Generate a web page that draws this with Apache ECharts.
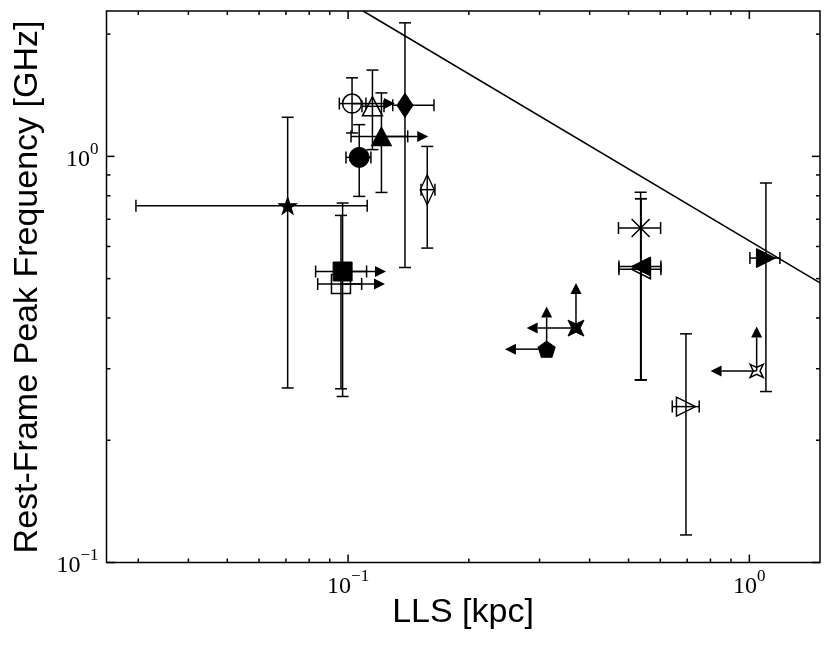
<!DOCTYPE html>
<html><head><meta charset="utf-8">
<script src="https://cdn.jsdelivr.net/npm/echarts@6/dist/echarts.min.js"></script>
<style>html,body{margin:0;padding:0;background:#fff}#main{width:831px;height:646px}</style>
</head><body><div id="main"></div>
<script>
// ---- axis ranges and ticks ----
const X_MIN = 0.025, X_MAX = 1.5, Y_MIN = 0.1, Y_MAX = 2.28;
const xMajorTicks = [0.1, 1];
const xMinorTicks = [0.03,0.04,0.05,0.06,0.07,0.08,0.09,0.2,0.3,0.4,0.5,0.6,0.7,0.8,0.9];
const yMajorTicks = [0.1, 1];
const yMinorTicks = [0.2,0.3,0.4,0.5,0.6,0.7,0.8,0.9,2];

// ---- sources (one marker each) ----
const sources = ['filledStar','openCircle','openTriangleUp','filledDiamond','filledCircle','filledTriangleUp',
  'openThinDiamond','filledSquare','openSquare','asterisk','openTriangleLeft','filledTriangleLeft',
  'filledTriangleRight','openTriangleRight','open4Star','filledPentagon','filled4Star'];
const lls =    [0.0707,0.1023,0.115,0.1386,0.1066,0.1211,0.1575,0.0969,0.096,0.5359,0.5368,0.5368,1.0998,0.6951,1.0428,0.3125,0.3698];
const freq =   [0.756,1.349,1.328,1.336,0.9943,1.12,0.828,0.5206,0.4849,0.666,0.5273,0.5357,0.5618,0.242,0.2963,0.3352,0.3777];
const llsLo =  [0.0296,0.0951,0.1083,0.1292,0.0988,0.1017,0.152,0.083,0.084,0.4719,0.4732,0.4732,1.0033,0.6425,null,null,null];
const llsHi =  [0.1116,0.1108,0.1229,0.1637,0.114,0.1408,0.1646,0.1112,0.1081,0.601,0.6021,0.6021,1.1918,0.75,null,null,null];
const freqLo = [0.269,1.142,1.039,0.5325,0.797,0.815,0.5945,0.2563,0.2677,0.2816,0.2816,0.2816,0.2636,0.1169,null,null,null];
const freqHi = [1.248,1.561,1.631,2.132,1.197,1.433,1.058,0.7676,0.7155,0.816,0.7866,0.7866,0.8599,0.3656,null,null,null];
// limit arrows (value the arrow points to)
const llsLimitTo  = [null,0.1308,null,null,null,0.1584,null,0.1243,0.1236,null,null,null,null,null,0.8006,0.246,0.2786];
const freqLimitTo = [null,null,null,null,null,null,null,null,null,null,null,null,null,null,0.3812,0.4269,0.4876];

// ---- reference relation line ----
const fitLLS  = [0.109, 1.5];
const fitFreq = [2.28, 0.488];

// ---- marker styles ----
const P_STAR = 'path://M50,0 L61.8,35.1 L98.5,35.1 L68.8,56.7 L79.4,91.5 L50,70 L20.6,91.5 L31.2,56.7 L1.5,35.1 L38.2,35.1 Z';
const P_LEFT = 'path://M0,50 L100,0 L100,100 Z';
const P_RIGHT = 'path://M100,50 L0,0 L0,100 Z';
const P_PENT = 'path://M50,0 L100,38 L81,100 L19,100 L0,38 Z';
const P_4STAR = 'path://M0,0 L50,24 L100,0 L76,50 L100,100 L50,76 L0,100 L24,50 Z';
const P_X = 'path://M0,0 L100,100 M100,0 L0,100';
const markerStyle = {
  filledStar:        {symbol:P_STAR, size:[18,17], fill:true},
  openCircle:        {symbol:'circle', size:19, fill:false},
  openTriangleUp:    {symbol:'triangle', size:[20,19], fill:false},
  filledDiamond:     {symbol:'diamond', size:[16,24], fill:true},
  filledCircle:      {symbol:'circle', size:20, fill:true},
  filledTriangleUp:  {symbol:'triangle', size:[20,19], fill:true},
  openThinDiamond:   {symbol:'diamond', size:[14,30], fill:false},
  filledSquare:      {symbol:'rect', size:19, fill:true},
  openSquare:        {symbol:'rect', size:19, fill:false},
  asterisk:          {symbol:P_X, size:18, fill:false},
  openTriangleLeft:  {symbol:P_LEFT, size:[19,19], fill:false},
  filledTriangleLeft:{symbol:P_LEFT, size:[19,19], fill:true},
  filledTriangleRight:{symbol:P_RIGHT, size:[19,19], fill:true},
  openTriangleRight: {symbol:P_RIGHT, size:[19,19], fill:false},
  open4Star:         {symbol:P_4STAR, size:13, fill:false},
  filledPentagon:    {symbol:P_PENT, size:[17,16], fill:true},
  filled4Star:       {symbol:P_4STAR, size:16, fill:true}
};

const CAP = 6, LW = 1.5;
function seg(x1,y1,x2,y2){ return {type:'line', shape:{x1,y1,x2,y2}, style:{stroke:'#000', lineWidth:LW}}; }

function renderErr(params, api){
  const i = params.dataIndex;
  const ch = [];
  if (llsLo[i] != null){
    const a = api.coord([llsLo[i], freq[i]]), b = api.coord([llsHi[i], freq[i]]);
    ch.push(seg(a[0],a[1],b[0],b[1]), seg(a[0],a[1]-CAP,a[0],a[1]+CAP), seg(b[0],b[1]-CAP,b[0],b[1]+CAP));
  }
  if (freqLo[i] != null){
    const a = api.coord([lls[i], freqLo[i]]), b = api.coord([lls[i], freqHi[i]]);
    ch.push(seg(a[0],a[1],b[0],b[1]), seg(a[0]-CAP,a[1],a[0]+CAP,a[1]), seg(b[0]-CAP,b[1],b[0]+CAP,b[1]));
  }
  return {type:'group', children:ch};
}
function arrow(c, t, ch){
  const dx = t[0]-c[0], dy = t[1]-c[1];
  const L = Math.sqrt(dx*dx+dy*dy); if (!L) return;
  const ux = dx/L, uy = dy/L, HL = 11, HW = 5.5;
  const bx = t[0]-ux*HL, by = t[1]-uy*HL;
  ch.push(seg(c[0],c[1],bx,by));
  ch.push({type:'polygon', shape:{points:[[t[0],t[1]],[bx-uy*HW,by+ux*HW],[bx+uy*HW,by-ux*HW]]}, style:{fill:'#000'}});
}
function renderArrows(params, api){
  const i = params.dataIndex;
  const ch = [];
  const c = api.coord([lls[i], freq[i]]);
  if (llsLimitTo[i] != null) arrow(c, api.coord([llsLimitTo[i], freq[i]]), ch);
  if (freqLimitTo[i] != null) arrow(c, api.coord([lls[i], freqLimitTo[i]]), ch);
  return {type:'group', children:ch};
}

const xTicks = xMajorTicks.map(v=>({v, major:true})).concat(xMinorTicks.map(v=>({v, major:false})));
const yTicks = yMajorTicks.map(v=>({v, major:true})).concat(yMinorTicks.map(v=>({v, major:false})));
const TW = 1.5;
function tline(x1,y1,x2,y2){ return {type:'line', shape:{x1,y1,x2,y2}, style:{stroke:'#000', lineWidth:TW}}; }
function renderXTick(params, api){
  const t = xTicks[params.dataIndex], len = t.major ? 8 : 4;
  const b = api.coord([t.v, Y_MIN]), tp = api.coord([t.v, Y_MAX]);
  return {type:'group', children:[tline(b[0],b[1],b[0],b[1]-len), tline(tp[0],tp[1],tp[0],tp[1]+len)]};
}
function renderYTick(params, api){
  const t = yTicks[params.dataIndex], len = t.major ? 8 : 4;
  const l = api.coord([X_MIN, t.v]), r = api.coord([X_MAX, t.v]);
  return {type:'group', children:[tline(l[0],l[1],l[0]+len,l[1]), tline(r[0],r[1],r[0]-len,r[1])]};
}

function powLabel(v){
  const e = Math.log10(v), r = Math.round(e);
  if (Math.abs(e - r) > 1e-6) return '';
  return '{b|10}{s|' + String(r).replace('-', '\u2212') + '}';
}
const richLab = {
  b:{fontFamily:'Liberation Serif', fontSize:24, color:'#000', lineHeight:30, verticalAlign:'bottom'},
  s:{fontFamily:'Liberation Serif', fontSize:17, color:'#000', lineHeight:30, verticalAlign:'top'}
};

const series = [];
series.push({type:'line', data: fitLLS.map((x,i)=>[x, fitFreq[i]]), symbol:'none', silent:true,
  lineStyle:{color:'#000', width:1.5}, z:1, animation:false});
series.push({type:'custom', renderItem: renderErr, data: lls.map((x,i)=>[x, freq[i]]), z:2, silent:true, animation:false, clip:false});
series.push({type:'custom', renderItem: renderArrows, data: lls.map((x,i)=>[x, freq[i]]), z:3, silent:true, animation:false, clip:false});
sources.forEach((s,i)=>{
  const m = markerStyle[s];
  series.push({type:'scatter', name:s, data:[[lls[i], freq[i]]], symbol:m.symbol, symbolSize:m.size, z:4,
    silent:true, animation:false,
    itemStyle: m.fill ? {color:'#000', borderColor:'#000', borderWidth:1, opacity:1}
                      : {color:'none', borderColor:'#000', borderWidth:1.5, opacity:1}});
});
series.push({type:'custom', renderItem: renderXTick, data: xTicks.map(t=>[t.v, 1]), z:5, silent:true, animation:false, clip:false});
series.push({type:'custom', renderItem: renderYTick, data: yTicks.map(t=>[0.5, t.v]), z:5, silent:true, animation:false, clip:false});

const chart = echarts.init(document.getElementById('main'));
chart.setOption({
  animation:false,
  backgroundColor:'#fff',
  grid:{left:106.5, right:11, top:11, bottom:83.5, show:true, borderColor:'#000', borderWidth:1.5, backgroundColor:'transparent'},
  xAxis:{type:'log', logBase:10, min:X_MIN, max:X_MAX,
    axisLine:{show:false}, axisTick:{show:false}, splitLine:{show:false}, minorTick:{show:false},
    axisLabel:{formatter: powLabel, rich: richLab, margin:6, showMinLabel:true, showMaxLabel:true}},
  yAxis:{type:'log', logBase:10, min:Y_MIN, max:Y_MAX,
    axisLine:{show:false}, axisTick:{show:false}, splitLine:{show:false}, minorTick:{show:false},
    axisLabel:{formatter: powLabel, rich: richLab, margin:8, showMinLabel:true, showMaxLabel:true}},
  graphic:[
    {type:'text', style:{text:'LLS [kpc]', x:463, y:613, align:'center', verticalAlign:'middle',
      font:'34px "Liberation Sans", Arial, sans-serif', fill:'#000'}},
    {type:'text', x:28, y:287, rotation:Math.PI/2, style:{text:'Rest-Frame Peak Frequency [GHz]', x:0, y:0, align:'center', verticalAlign:'middle',
      font:'34px "Liberation Sans", Arial, sans-serif', fill:'#000'}}
  ],
  series
});
</script></body></html>
